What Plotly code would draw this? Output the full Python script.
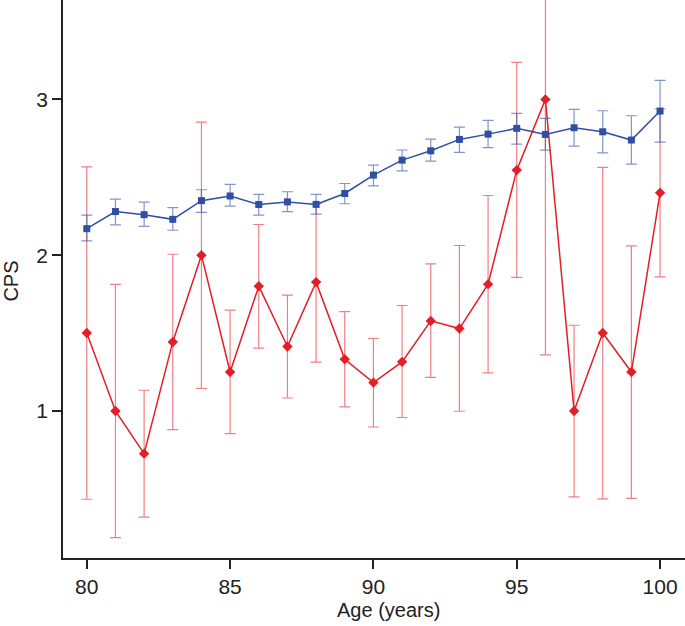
import plotly.graph_objects as go

# ---- data ----
ages = list(range(80, 101))

blue_cps = [2.17, 2.28, 2.26, 2.23, 2.35, 2.38, 2.325, 2.342, 2.326, 2.396, 2.514,
            2.61, 2.67, 2.743, 2.777, 2.814, 2.775, 2.818, 2.792, 2.739, 2.925]
blue_upper = [2.257, 2.36, 2.34, 2.305, 2.42, 2.455, 2.39, 2.407, 2.39, 2.46, 2.578,
              2.675, 2.745, 2.822, 2.865, 2.91, 2.878, 2.936, 2.927, 2.895, 3.122]
blue_lower = [2.092, 2.195, 2.185, 2.16, 2.275, 2.315, 2.257, 2.28, 2.263, 2.33, 2.445,
              2.541, 2.604, 2.66, 2.69, 2.713, 2.674, 2.70, 2.657, 2.584, 2.726]

red_cps = [1.5, 1.0, 0.726, 1.443, 2.0, 1.25, 1.801, 1.414, 1.827, 1.332, 1.182,
           1.315, 1.578, 1.529, 1.814, 2.546, 3.0, 1.0, 1.5, 1.25, 2.4]
red_upper = [2.567, 1.812, 1.133, 2.006, 2.854, 1.647, 2.197, 1.743, 2.33, 1.638, 1.465,
             1.677, 1.944, 2.062, 2.383, 3.238, 6.0, 1.55, 2.563, 2.06, 2.94]
red_lower = [0.433, 0.187, 0.319, 0.88, 1.144, 0.855, 1.403, 1.083, 1.313, 1.026, 0.897,
             0.958, 1.215, 0.998, 1.244, 1.857, 1.36, 0.448, 0.435, 0.439, 1.861]

x_ticks = [80, 85, 90, 95, 100]
y_ticks = [1, 2, 3]

BLUE = "#2f4fa5"
BLUE_ERR = "rgba(47,79,165,0.6)"
RED = "#e31e26"
RED_ERR = "rgba(230,40,50,0.6)"

fig = go.Figure()

fig.add_trace(go.Scatter(
    x=ages, y=red_cps, mode="lines+markers",
    line=dict(color=RED, width=1.5),
    marker=dict(symbol="diamond", size=8, color=RED),
    error_y=dict(type="data", symmetric=False,
                 array=[u - v for u, v in zip(red_upper, red_cps)],
                 arrayminus=[v - l for v, l in zip(red_cps, red_lower)],
                 color=RED_ERR, thickness=1.2, width=5.5),
    showlegend=False,
))

fig.add_trace(go.Scatter(
    x=ages, y=blue_cps, mode="lines+markers",
    line=dict(color=BLUE, width=1.5),
    marker=dict(symbol="square", size=7, color=BLUE),
    error_y=dict(type="data", symmetric=False,
                 array=[u - v for u, v in zip(blue_upper, blue_cps)],
                 arrayminus=[v - l for v, l in zip(blue_cps, blue_lower)],
                 color=BLUE_ERR, thickness=1.2, width=5.5),
    showlegend=False,
))

axis_font = dict(family="Liberation Sans, Arial, sans-serif", size=21, color="#222")

fig.update_layout(
    width=685, height=626,
    margin=dict(l=63, r=0, t=0, b=68),
    paper_bgcolor="white", plot_bgcolor="white",
    font=axis_font,
    xaxis=dict(range=[79.17, 100.87], tickvals=x_ticks, ticks="outside", ticklen=9,
               tickwidth=1.5, tickcolor="#222", showline=True, linecolor="#222",
               linewidth=1.8, showgrid=False, zeroline=False, tickfont=axis_font),
    yaxis=dict(range=[0.056, 3.638], tickvals=y_ticks, ticks="outside", ticklen=9,
               tickwidth=1.5, tickcolor="#222", showline=True, linecolor="#222",
               linewidth=1.8, showgrid=False, zeroline=False, tickfont=axis_font),
    annotations=[
        dict(text="Age (years)", xref="paper", yref="paper", x=0.524, y=-0.094,
             xanchor="center", yanchor="middle", showarrow=False,
             font=dict(family=axis_font["family"], size=20, color="#222")),
        dict(text="CPS", xref="paper", yref="paper", x=-0.083, y=0.496,
             xanchor="center", yanchor="middle", textangle=-90, showarrow=False,
             font=dict(family=axis_font["family"], size=20, color="#222")),
    ],
)

fig.write_html("out.html", config={"displayModeBar": False},
               post_script="document.body.style.margin='0';document.body.style.overflow='hidden';")
